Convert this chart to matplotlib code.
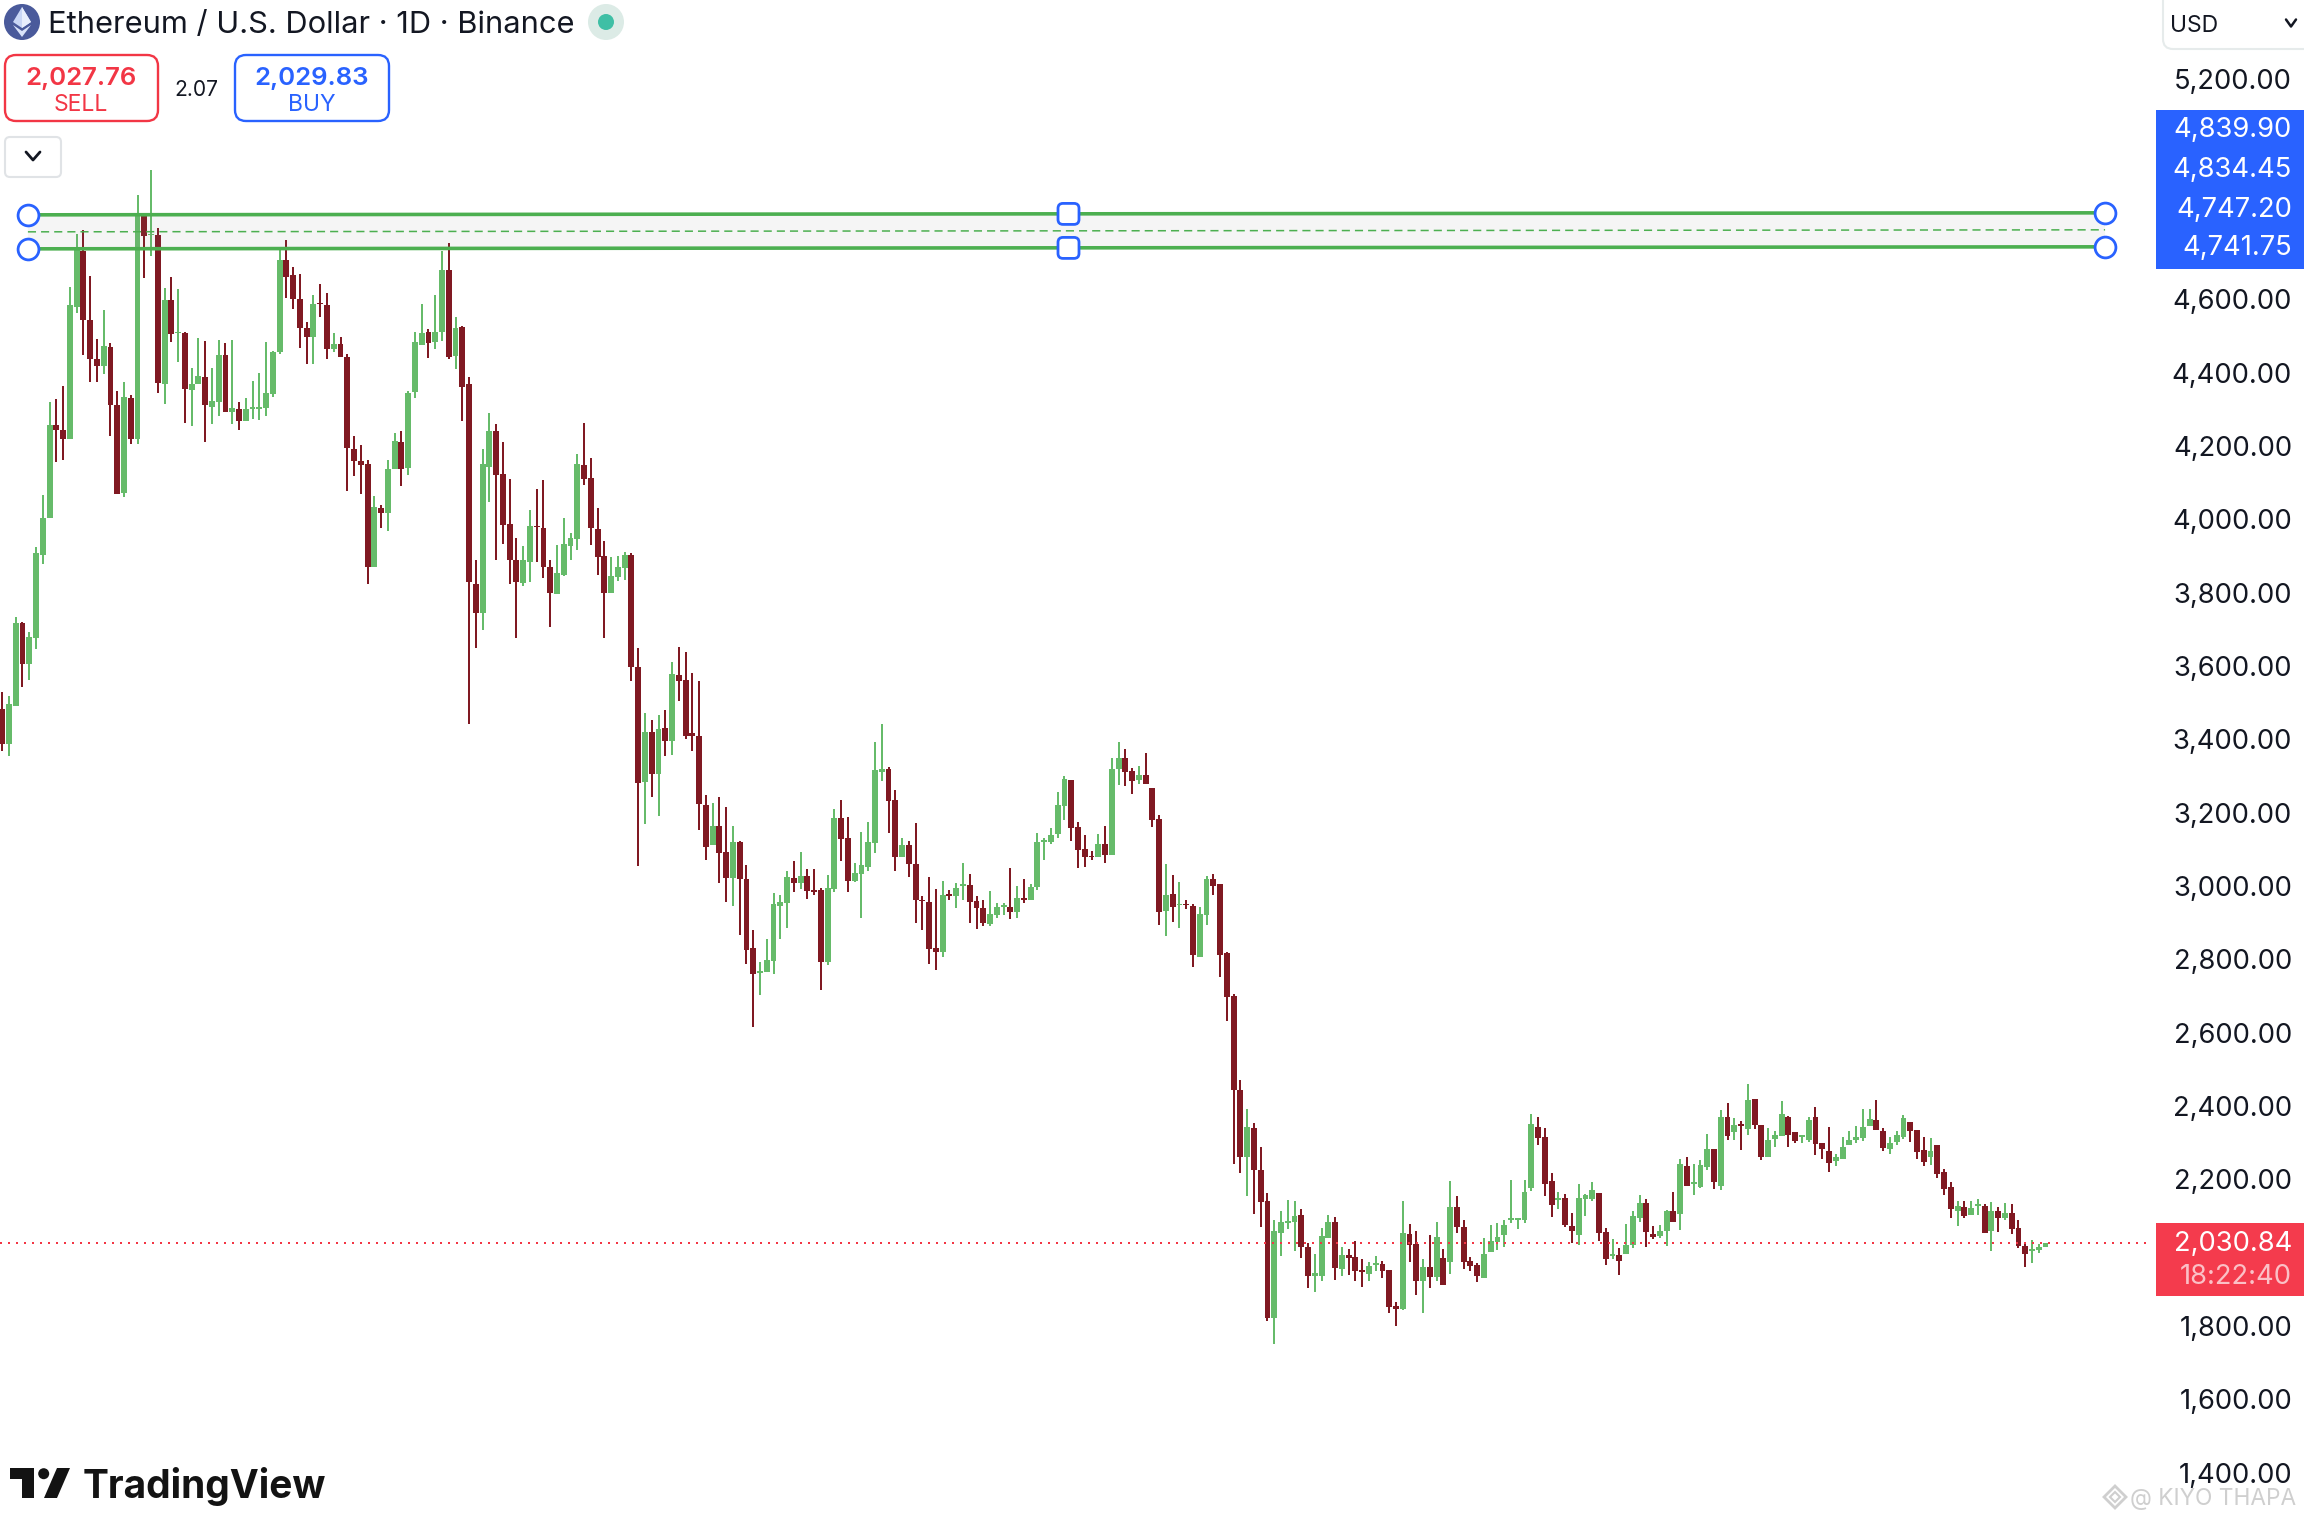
import matplotlib
matplotlib.use("Agg")
import matplotlib.pyplot as plt
from matplotlib.patches import FancyBboxPatch, Rectangle, Circle, Polygon
from matplotlib.transforms import ScaledTranslation

highs = [
 3534,3521,3738,3724,3697,3928,4070,4324,4332,4368, 4637,4783,4792,4667,4495,4576,4484,4355,4378,4342,
 4888,4837,4956,4799,4636,4665,4633,4514,4416,4498, 4491,4416,4492,4484,4492,4324,4335,4380,4403,4487,
 4464,4742,4766,4692,4674,4541,4617,4647,4620,4511, 4500,4456,4230,4206,4165,4069,4043,4165,4240,4245,
 4355,4514,4590,4522,4617,4735,4758,4555,4532,4393, 3894,4197,4294,4263,4216,4114,3952,3931,4030,4088,
 4111,3894,3933,4009,3966,4183,4267,4172,4036,3944, 3901,3904,3914,3911,3653,3477,3457,3471,3483,3615,
 3656,3641,3585,3563,3251,3231,3246,3219,3168,3127, 3062,2885,2797,2859,2985,2979,3045,3071,3097,3050,
 3050,2999,3035,3213,3239,3192,3067,3152,3178,3397, 3446,3329,3267,3135,3128,3176,2977,3029,2996,3018,
 2992,3012,3067,3036,2977,2967,2991,2958,2958,3054, 3004,3023,3009,3148,3135,3162,3261,3304,3294,3178,
 3142,3099,3145,3168,3353,3397,3379,3326,3332,3367, 3271,3198,3064,3034,3015,2965,2956,2947,3031,3038,
 3010,2824,2710,2476,2396,2358,2292,2167,2094,2118, 2148,2146,2122,2030,2001,2071,2107,2102,2021,2014,
 2036,1987,1979,1995,1981,1957,1870,2146,2083,2064, 1987,2052,2088,2014,2200,2159,2094,1993,1976,2043,
 2079,2085,2094,2202,2099,2202,2382,2374,2344,2221, 2170,2164,2112,2192,2164,2198,2167,2072,2042,2017,
 2082,2118,2162,2151,2077,2080,2121,2170,2260,2265, 2246,2257,2328,2287,2393,2412,2372,2363,2464,2423,
 2352,2344,2336,2418,2377,2333,2325,2374,2402,2303, 2347,2273,2320,2336,2350,2396,2396,2421,2344,2320,
 2336,2380,2361,2339,2320,2317,2298,2232,2197,2145, 2145,2145,2151,2137,2142,2129,2140,2137,2093,2028,
 2039,2028,2031]

body_tops = [
 3487,3501,3722,3722,3684,3912,4009,4262,4262,4248, 4589,4742,4735,4549,4441,4476,4473,4316,4338,4335,
 4834,4830,4783,4780,4602,4602,4515,4511,4373,4395, 4392,4327,4452,4452,4308,4305,4305,4311,4311,4349,
 4460,4712,4712,4670,4606,4525,4590,4593,4589,4481, 4481,4446,4197,4164,4156,4039,4035,4142,4218,4216,
 4349,4487,4511,4515,4514,4685,4685,4525,4529,4372, 3828,4156,4245,4245,4127,3992,3893,3893,3985,3986,
 3981,3874,3857,3936,3952,4156,4152,4118,3978,3904, 3849,3874,3908,3906,3601,3424,3424,3431,3436,3582,
 3580,3566,3421,3412,3225,3168,3168,3097,3125,3125, 3022,2835,2772,2802,2956,2960,3029,3027,3031,3031,
 2993,2993,2999,3190,3190,3135,3040,3062,3125,3321, 3322,3323,3239,3116,3116,3064,2966,2960,2835,2979,
 2983,3000,3010,3008,2963,2944,2928,2946,2953,2948, 2972,2972,3001,3125,3129,3144,3225,3296,3294,3164,
 3106,3086,3119,3119,3323,3353,3353,3317,3307,3307, 3271,3187,2979,2983,2956,2956,2950,2928,3023,3023,
 3010,2822,2704,2448,2347,2344,2229,2146,2064,2088, 2091,2104,2107,2020,1949,2049,2088,2088,1998,1998,
 1992,1956,1968,1976,1973,1957,1859,2058,2056,2028, 1966,1966,2047,1989,2129,2129,2075,1981,1970,2001,
 2037,2047,2079,2099,2099,2170,2355,2347,2319,2201, 2154,2154,2077,2154,2161,2175,2167,2061,2001,1998,
 2025,2104,2140,2140,2055,2063,2118,2118,2246,2241, 2197,2243,2287,2287,2374,2374,2352,2355,2421,2423,
 2352,2312,2325,2382,2374,2333,2325,2366,2374,2303, 2282,2265,2292,2312,2320,2347,2369,2366,2336,2303,
 2325,2372,2361,2339,2284,2282,2298,2224,2183,2132, 2129,2126,2137,2132,2118,2118,2112,2112,2072,2022,
 2014,2020,2031]

body_bottoms = [
 3392,3392,3496,3609,3609,3680,3908,4009,4248,4224, 4224,4583,4549,4441,4422,4422,4315,4074,4077,4224,
 4224,4776,4779,4376,4372,4509,4511,4359,4357,4373, 4315,4311,4324,4297,4297,4273,4273,4305,4305,4308,
 4346,4460,4665,4606,4525,4500,4502,4590,4468,4468, 4446,4199,4163,4153,3874,3874,4020,4020,4142,4142,
 4145,4351,4480,4484,4487,4514,4446,4449,4365,3833, 3749,3749,4148,4125,3988,3893,3833,3830,3887,3982,
 3874,3803,3800,3853,3932,3950,4115,3980,3901,3803, 3802,3847,3871,3601,3285,3288,3310,3310,3400,3400,
 3563,3412,3412,3228,3110,3116,3095,3027,3027,3022, 2830,2764,2767,2769,2799,2950,2958,3012,3012,2991,
 2989,2797,2797,2996,3131,3019,3018,3036,3057,3122, 3316,3237,3083,3082,3063,2965,2962,2833,2825,2825,
 2977,2977,3005,2961,2944,2902,2901,2924,2948,2934, 2934,2967,2967,3001,3125,3125,3145,3223,3162,3102,
 3083,3082,3082,3089,3089,3322,3315,3290,3294,3281, 3184,2933,2935,2947,2951,2951,2815,2810,2925,3003,
 2817,2701,2449,2266,2266,2229,2142,1825,1827,2057, 2084,2088,2021,1940,1940,1942,2045,1963,1961,1991,
 1953,1952,1947,1972,1954,1855,1852,1851,2026,1927, 1927,1939,1939,1916,1979,2075,1979,1968,1941,1935,
 2006,2033,2052,2092,2092,2094,2181,2317,2192,2135, 2148,2079,2064,2053,2151,2151,2058,1987,1995,1982,
 2001,2025,2099,2061,2047,2050,2063,2088,2110,2186, 2192,2183,2238,2197,2186,2322,2333,2350,2342,2352,
 2265,2265,2314,2322,2325,2309,2320,2312,2301,2287, 2249,2254,2260,2298,2312,2317,2350,2339,2290,2287,
 2306,2320,2336,2279,2252,2265,2219,2178,2123,2118, 2104,2107,2132,2058,2063,2099,2099,2069,2022,2001,
 2009,2012,2020]

lows = [
 3372,3358,3494,3548,3566,3650,3883,4009,4161,4165, 4224,4566,4452,4378,4378,4400,4230,4074,4064,4209,
 4210,4663,4722,4349,4319,4487,4433,4267,4259,4373, 4216,4264,4286,4297,4264,4247,4273,4278,4274,4287,
 4338,4454,4609,4579,4471,4427,4427,4557,4441,4460, 4446,4080,4121,4074,3829,3874,3980,3971,4142,4096,
 4125,4335,4480,4444,4468,4491,4441,4414,4273,3446, 3654,3703,4050,3894,3937,3829,3681,3822,3833,3887,
 3844,3711,3800,3849,3894,3921,4097,3935,3853,3681, 3802,3836,3840,3562,3060,3172,3246,3196,3360,3361,
 3509,3405,3373,3157,3074,3116,3012,2960,2950,2870, 2792,2620,2707,2769,2764,2859,2889,2989,2996,2970,
 2980,2721,2788,2989,3071,2989,3015,2918,3044,3093, 3291,3148,3045,3082,3029,2904,2885,2792,2776,2811,
 2965,2945,2967,2904,2888,2894,2894,2918,2926,2913, 2918,2959,2967,2992,3076,3119,3136,3184,3128,3054,
 3057,3076,3082,3068,3089,3280,3277,3255,3282,3281, 3166,2899,2867,2906,2891,2941,2784,2810,2899,2979,
 2757,2636,2246,2222,2160,2110,2075,1817,1755,1994, 2068,2008,1991,1907,1898,1927,2045,1930,1940,1944,
 1926,1911,1926,1955,1936,1840,1803,1849,1978,1888, 1840,1909,1926,1916,1947,2057,1959,1955,1923,1935,
 2006,2012,2021,2086,2068,2086,2172,2297,2160,2101, 2122,2075,2030,2026,2104,2146,2037,1971,1987,1943,
 2001,2017,2088,2020,2042,2044,2022,2088,2066,2186, 2162,2181,2230,2178,2175,2312,2312,2284,2325,2342,
 2257,2265,2292,2322,2292,2303,2303,2306,2271,2260, 2224,2241,2260,2298,2303,2309,2350,2339,2282,2273,
 2298,2314,2306,2260,2241,2243,2208,2162,2099,2077, 2099,2107,2107,2058,2009,2061,2093,2055,2017,1965,
 1976,2003,2020]

directions = ("rggrggggrr" "ggrrrgrrgr" "grgrgrgrgg" "rggrgrgggg" "ggrrrrgrrg" "rrrrrgrggr"
              "gggrggrgrr" "rggrrrrggr" "rrggggrrrr" "gggrrgrgrg" "rrrrrgrrgr" "rrgggggrgr"
              "rrggrrgggg" "grrgrrrrrg" "rggrrrgggr" "grggggggrr" "rrgrggrrgr" "rrgrgrrggr"
              "rrrrgrrrgg" "ggrrgggrgr" "rrggrrrgrr" "grgrgrrrrg" "gggggggrrr" "grrgggrrgr"
              "gggrrggrgr" "gggrgrgrgr" "rgggrrggrr" "rggggggrrg" "ggrrrgrrrg" "rggrgrgrrr" "ggg")

tick_values = [5200, 4600, 4400, 4200, 4000, 3800, 3600, 3400, 3200, 3000,
               2800, 2600, 2400, 2200, 1800, 1600, 1400]
zone_upper = [4834.45, 4839.90]
zone_lower = [4741.75, 4747.20]
zone_span = [3.8, 310.8]
zone_handle_labels = ["4,839.90", "4,834.45", "4,747.20", "4,741.75"]
last_price = 2030.84
last_price_label = "2,030.84"
countdown = "18:22:40"
sell_price, spread, buy_price = "2,027.76", "2.07", "2,029.83"
title = "Ethereum / U.S. Dollar · 1D · Binance"

GREEN, RED = "#66BB6A", "#801922"
BLUE, ALERT = "#2962FF", "#F23645"
LINE = "#4CAF50"
FONT = "Inter"
SCALE_SIZE = 19.7
W, H = 2304, 1522

fig = plt.figure(figsize=(W / 100, H / 100), dpi=100, facecolor="white")
ax = fig.add_axes([0, 0, 1, 1])
ax.set_xlim(-0.325, 340.2)
ax.set_ylim(1269.8, 5420.3)
for s in ax.spines.values():
    s.set_visible(False)
ax.set_xticks([])
ax.yaxis.tick_right()
ax.set_yticks(tick_values)
ax.set_yticklabels([f"{v:,.2f}" for v in tick_values])
ax.tick_params(axis="y", length=0, pad=-8.6)
nudge = ScaledTranslation(0, -1.5 / 100, fig.dpi_scale_trans)
for tick in ax.yaxis.get_major_ticks():
    lab = tick.label2
    lab.set(family=FONT, fontsize=SCALE_SIZE, color="#131722", ha="right", va="center")
    lab.set_transform(lab.get_transform() + nudge)

xs = list(range(len(highs)))
colors = [GREEN if d == "g" else RED for d in directions]
ax.vlines(xs, lows, highs, colors=colors, linewidth=1.44, capstyle="butt", zorder=2)
ax.bar(xs, [t - b for t, b in zip(body_tops, body_bottoms)], bottom=body_bottoms,
       width=0.87, color=colors, linewidth=0, zorder=3)

# last price line
ax.hlines(last_price, -0.325, 317, colors=ALERT, linewidth=1.44,
          linestyles=(0, (1, 3)), zorder=4)

# drawn zone
ax.fill(zone_span + zone_span[::-1], zone_upper + zone_lower[::-1],
        facecolor="#8a8a8a", alpha=0.08, linewidth=0, zorder=5)
mid = [(a + b) / 2 for a, b in zip(zone_upper, zone_lower)]
ax.plot(zone_span, zone_upper, color=LINE, lw=2.6, zorder=6, solid_capstyle="butt")
ax.plot(zone_span, zone_lower, color=LINE, lw=2.6, zorder=6, solid_capstyle="butt")
ax.plot(zone_span, mid, color=LINE, lw=1.1, ls=(0, (5.3, 3.3)), zorder=6)
for ys in (zone_upper, zone_lower):
    ax.plot(zone_span, ys, ls="none", marker="o", ms=15, mfc="white", mec=BLUE, mew=2.0, zorder=7)

# interface furniture in pixel space
ui = fig.add_axes([0, 0, 1, 1], zorder=10)
ui.set_xlim(0, W)
ui.set_ylim(H, 0)
ui.axis("off")
ui.patch.set_alpha(0)


def rbox(x0, y0, x1, y1, r, fc, ec, lw=1.5):
    ui.add_patch(FancyBboxPatch((x0 + r, y0 + r), x1 - x0 - 2 * r, y1 - y0 - 2 * r,
                                boxstyle=f"round,pad={r},rounding_size={r}", fc=fc, ec=ec, lw=lw,
                                mutation_aspect=1))


def chevron(cx, cy, w, h, color, lw=2.0):
    ui.plot([cx - w, cx, cx + w], [cy - h, cy + h, cy - h], color=color, lw=lw,
            solid_capstyle="round", solid_joinstyle="round")


# mid handles
for yy in (213.9, 247.9):
    rbox(1058, yy - 10.5, 1079, yy + 10.5, 5, "white", BLUE, 2.0)

# right scale boxes
ui.add_patch(Rectangle((2156, 110), 148, 159, fc=BLUE, ec="none"))
for y, s in zip((130.5, 170.5, 209.5, 248.5), zone_handle_labels):
    ui.text(2292, y, s, color="white", family=FONT, fontsize=SCALE_SIZE, ha="right", va="center")
ui.add_patch(Rectangle((2156, 1223), 148, 73, fc="#F43B4D", ec="none"))
ui.text(2292, 1244, last_price_label, color="white", family=FONT, fontsize=SCALE_SIZE, ha="right", va="center")
ui.text(2292, 1276.5, countdown, color="#FBC0C6", family=FONT, fontsize=SCALE_SIZE, ha="right", va="center")

# currency dropdown
rbox(2163, -12, 2320, 49, 10, "white", "#E6EBEB", 1.5)
ui.text(2170, 25.5, "USD", color="#131722", family=FONT, fontsize=16.5, ha="left", va="center")
chevron(2291, 23, 5, 3.5, "#131722", 1.8)

# header
ui.add_patch(Circle((22, 22), 18, fc="#4A5A9B", ec="none"))
ui.add_patch(Polygon([(22, 7), (31, 22), (22, 28), (13, 22)], fc="#C9D6F5", ec="none"))
ui.add_patch(Polygon([(22, 7), (31, 22), (22, 28)], fc="#E8EEFC", ec="none"))
ui.add_patch(Polygon([(13, 25), (22, 31), (31, 25), (22, 37)], fc="#D9E3FA", ec="none"))
ui.text(48, 25, title, color="#131722", family=FONT, fontsize=22.2, ha="left", va="center")
ui.add_patch(Circle((606, 22), 18, fc="#DCEBE6", ec="none"))
ui.add_patch(Circle((606, 22), 8, fc="#3FBFA5", ec="none"))

rbox(5, 55, 158, 121, 11, "white", ALERT, 1.7)
ui.text(81, 78, sell_price, color=ALERT, family=FONT, fontsize=18.5, fontweight="semibold", ha="center", va="center")
ui.text(81, 105, "SELL", color=ALERT, family=FONT, fontsize=16.5, ha="center", va="center")
ui.text(196, 89.5, spread, color="#131722", family=FONT, fontsize=15.2, ha="center", va="center")
rbox(235, 55, 389, 121, 11, "white", BLUE, 1.7)
ui.text(312, 78, buy_price, color=BLUE, family=FONT, fontsize=18.5, fontweight="semibold", ha="center", va="center")
ui.text(312, 105, "BUY", color=BLUE, family=FONT, fontsize=16.5, ha="center", va="center")
rbox(5, 137, 61, 177, 5, "white", "#E0E3E6", 1.5)
chevron(33, 156, 7, 4, "#131722", 2.0)

# TradingView logo
LOGO = "#131313"
ui.add_patch(Polygon([(10, 1468), (34.3, 1468), (34.3, 1498), (22.3, 1498), (22.3, 1479), (10, 1479)], fc=LOGO, ec="none"))
ui.add_patch(Circle((43.7, 1473.7), 5.5, fc=LOGO, ec="none"))
ui.add_patch(Polygon([(57, 1468), (70, 1468), (57, 1498), (44, 1498)], fc=LOGO, ec="none"))
ui.text(83, 1498, "TradingView", color=LOGO, family=FONT, fontsize=28, fontweight="bold", ha="left", va="baseline")

# watermark
WM = "#CFCFCF"
ui.add_patch(Polygon([(2115, 1486), (2126, 1497), (2115, 1508), (2104, 1497)], fc="none", ec=WM, lw=2))
ui.add_patch(Polygon([(2115, 1492), (2120, 1497), (2115, 1502), (2110, 1497)], fc="none", ec=WM, lw=1.5))
ui.text(2296, 1499, "@ KIYO THAPA", color=WM, family=FONT, fontsize=16.3, ha="right", va="center")

fig.savefig("out.png", dpi=100, facecolor="white")
